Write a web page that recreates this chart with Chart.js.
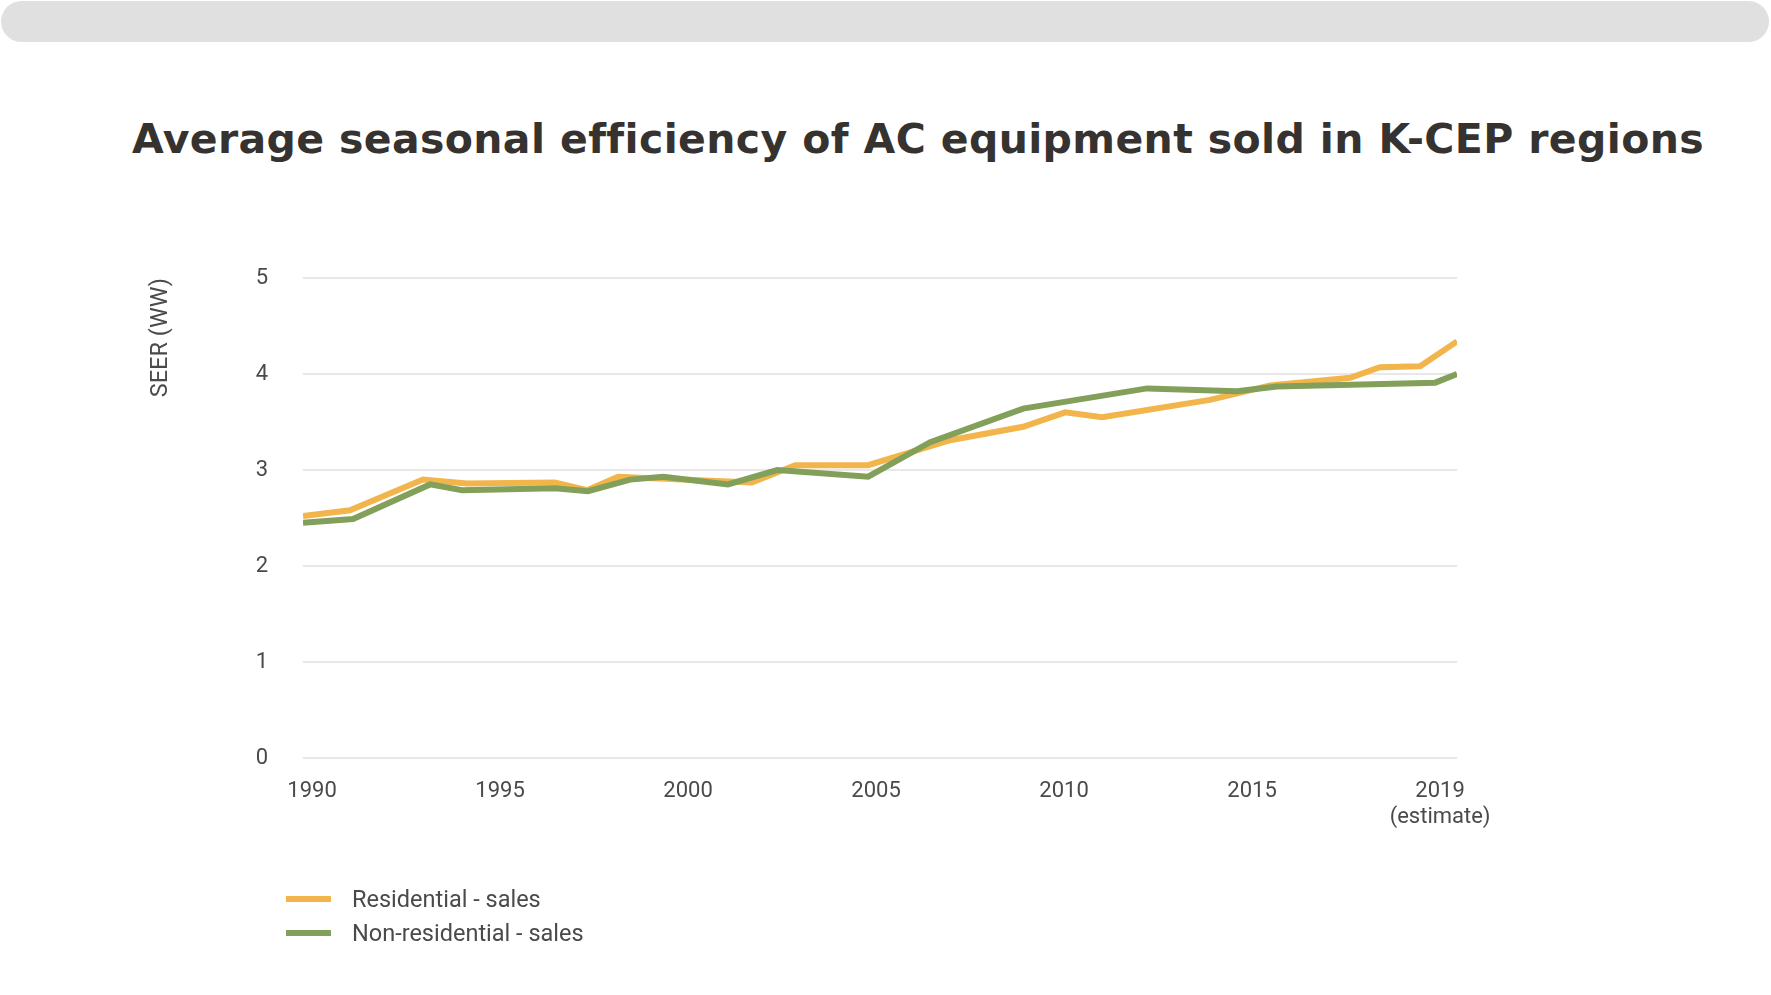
<!DOCTYPE html>
<html><head><meta charset="utf-8">
<script src="https://cdn.jsdelivr.net/npm/chart.js@4.4.0/dist/chart.umd.min.js"></script>
<style>
html,body{margin:0;padding:0;background:#fff;}
body{width:1771px;height:995px;position:relative;overflow:hidden;font-family:Roboto,sans-serif;}
#bar{position:absolute;left:1px;top:1px;width:1768px;height:41px;border-radius:21px;background:#e0e0e0;}
#title{position:absolute;left:132px;top:116px;font-family:"DejaVu Sans";font-weight:bold;font-size:41px;color:#36322f;white-space:nowrap;line-height:1.164;}
#c{position:absolute;left:0;top:0;}
#legend{position:absolute;left:286px;top:882px;}
.item{display:flex;align-items:center;height:34px;}
.sw{width:45px;height:6px;margin-right:21px;}
.lab{font-size:23.5px;color:#4a4a4a;font-family:Roboto;}
</style></head>
<body>
<div id="bar"></div>
<div id="title">Average seasonal efficiency of AC equipment sold in K-CEP regions</div>
<canvas id="c" width="1771" height="995"></canvas>
<div id="legend"></div>
<script>
const seriesNames = ["Residential - sales", "Non-residential - sales"];
const seriesColors = ["#f2b54b", "#82a05a"];
const yTitle = "SEER (WW)";
const tickValues = [1990, 1995, 2000, 2005, 2010, 2015, 2020];
const tickLabels = ["1990", "1995", "2000", "2005", "2010", "2015", ["2019", "(estimate)"]];
const xMin = 1989.76, xMax = 2020.45;

const resYears  = [1989.76, 1991.01, 1992.95, 1994.12, 1996.46, 1997.31, 1998.14, 2001.70, 2002.85, 2004.79, 2006.97, 2008.91, 2010.03, 2011.01, 2013.88, 2015.48, 2017.61, 2018.40, 2019.47, 2020.45];
const resValues = [2.52, 2.58, 2.90, 2.86, 2.87, 2.79, 2.93, 2.87, 3.05, 3.05, 3.31, 3.45, 3.60, 3.55, 3.73, 3.88, 3.96, 4.07, 4.08, 4.34];

const nonYears  = [1989.76, 1991.09, 1993.14, 1993.99, 1996.46, 1997.34, 1998.46, 1999.34, 2001.06, 2002.37, 2004.79, 2006.44, 2008.91, 2012.21, 2014.60, 2015.66, 2019.87, 2020.45];
const nonValues = [2.45, 2.49, 2.85, 2.79, 2.81, 2.78, 2.90, 2.93, 2.85, 3.00, 2.93, 3.29, 3.64, 3.85, 3.82, 3.87, 3.91, 4.00];

// fit title width
const t = document.getElementById('title');
const target = 1568;
const w = t.getBoundingClientRect().width;
t.style.letterSpacing = ((target - w) / t.textContent.length) + 'px';

const datasets = [
  {label: seriesNames[0], data: resYears.map((x,i)=>({x:x, y:resValues[i]})), borderColor: seriesColors[0], order: 1},
  {label: seriesNames[1], data: nonYears.map((x,i)=>({x:x, y:nonValues[i]})), borderColor: seriesColors[1], order: 0}
].map(d => Object.assign(d, {borderWidth: 6, pointRadius: 0, tension: 0, fill: false, borderJoinStyle: 'miter'}));

new Chart(document.getElementById('c'), {
  type: 'line',
  data: {datasets: datasets},
  options: {
    responsive: false, animation: false, devicePixelRatio: 1,
    layout: {padding: {left: 140, right: 314, top: 278, bottom: 156}},
    plugins: {legend: {display: false}, tooltip: {enabled: false}, title: {display: false}},
    scales: {
      x: {
        type: 'linear', min: xMin, max: xMax,
        grid: {display: false, drawTicks: false}, border: {display: false},
        afterBuildTicks: s => { s.ticks = tickValues.map(v => ({value: v})); },
        afterFit: s => { s.height = 81; },
        ticks: {autoSkip: false, maxRotation: 0, minRotation: 0, padding: 20, color: '#4a4a4a',
                font: {family: 'Roboto', size: 22, lineHeight: 1.2},
                callback: (v, i) => tickLabels[i]}
      },
      y: {
        min: 0, max: 5,
        ticks: {stepSize: 1, padding: 35, color: '#4a4a4a', font: {family: 'Roboto', size: 22}},
        grid: {color: '#e8e8e8', lineWidth: 2, drawTicks: false}, border: {display: false},
        afterFit: s => { s.width = 163; },
        title: {display: true, text: yTitle, align: 'end', color: '#4a4a4a',
                font: {family: 'Roboto', size: 23.5}, padding: {top: 7, bottom: 0}}
      }
    }
  }
});

const lg = document.getElementById('legend');
seriesNames.forEach((n, i) => {
  const it = document.createElement('div'); it.className = 'item';
  const sw = document.createElement('div'); sw.className = 'sw'; sw.style.background = seriesColors[i];
  const lb = document.createElement('div'); lb.className = 'lab'; lb.textContent = n;
  it.appendChild(sw); it.appendChild(lb); lg.appendChild(it);
});
</script>
</body></html>
